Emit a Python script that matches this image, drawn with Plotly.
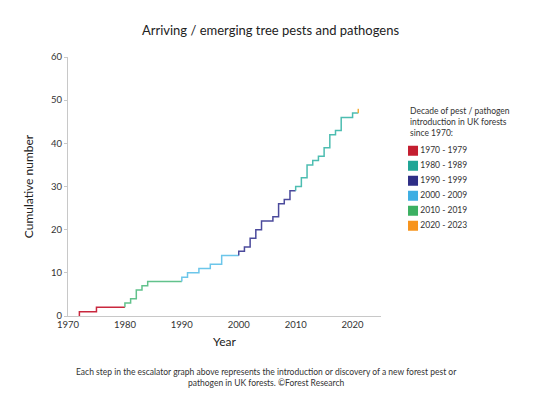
import plotly.graph_objects as go

# Year of each new arrival / emergence and the cumulative total after it
years = [1972, 1975, 1980, 1981, 1982, 1983, 1984, 1990, 1991, 1993, 1995,
         1997, 2000, 2001, 2002, 2003, 2004, 2006, 2007, 2008, 2009, 2010,
         2011, 2012, 2013, 2014, 2015, 2016, 2017, 2018, 2020, 2021]
counts = [1, 2, 3, 4, 6, 7, 8, 9, 10, 11, 12,
          14, 15, 16, 18, 20, 22, 23, 26, 27, 29, 30,
          32, 35, 36, 37, 39, 42, 43, 46, 47, 48]

# colour bands of the escalator line, as drawn in the original
segment_starts = [1970, 1980, 1990, 2000, 2010, 2021]
segment_colors = ['#c9283e', '#62c28c', '#6cc6ea', '#4b4a9c', '#4dbdb1', '#f5ad3a']

# legend key (colours as given in the original key)
legend_labels = ['1970 - 1979', '1980 - 1989', '1990 - 1999',
                 '2000 - 2009', '2010 - 2019', '2020 - 2023']
legend_colors = ['#c41e30', '#1fa596', '#2e2e86', '#3daee3', '#3cb062', '#f7941d']

FONT = 'Lato'
TEXT = '#333333'
AXIS = '#c8c8c8'

fig = go.Figure()

prev = 0
for i, start in enumerate(segment_starts):
    end = segment_starts[i + 1] if i + 1 < len(segment_starts) else None
    idx = [k for k, yr in enumerate(years) if yr >= start and (end is None or yr < end)]
    if not idx:
        continue
    xs = [years[idx[0]]] + [years[k] for k in idx]
    ys = [prev] + [counts[k] for k in idx]
    if end is not None:
        xs.append(end)
        ys.append(ys[-1])
    prev = ys[-1]
    fig.add_trace(go.Scatter(
        x=xs, y=ys, mode='lines', line_shape='hv',
        line=dict(color=segment_colors[i], width=1.5),
        showlegend=False, hoverinfo='skip'
    ))

# key drawn on its own small axes so the spacing matches the original
fig.add_trace(go.Scatter(
    x=[8] * len(legend_labels), y=legend_labels,
    mode='markers+text', text=legend_labels, textposition='middle right',
    textfont=dict(family=FONT, size=8.5, color=TEXT),
    marker=dict(symbol='square', size=10, color=legend_colors),
    xaxis='x2', yaxis='y2', showlegend=False, hoverinfo='skip'
))

fig.update_layout(
    width=525, height=392,
    margin=dict(l=60, r=10, t=49, b=84),
    paper_bgcolor='white', plot_bgcolor='white',
    font=dict(family=FONT, color=TEXT),
    title=dict(text='Arriving / emerging tree pests and pathogens',
               x=0.5, xanchor='center', y=0.944, yanchor='middle',
               font=dict(size=13, color='#222222')),
    xaxis=dict(domain=[0, 0.688], range=[1970, 2025], dtick=10, tick0=1970,
               showline=True, linecolor=AXIS, linewidth=1, showgrid=False,
               zeroline=False, ticks='', tickfont=dict(size=9.5, color=TEXT),
               title=dict(text='Year', font=dict(size=12, color='#222222'), standoff=8)),
    yaxis=dict(range=[0, 60], dtick=10, showline=True, linecolor=AXIS, linewidth=1,
               showgrid=False, zeroline=False, ticks='outside', ticklen=3,
               tickcolor=AXIS, tickfont=dict(size=9.5, color=TEXT),
               title=dict(text='Cumulative number', font=dict(size=12, color='#222222'),
                          standoff=14)),
    xaxis2=dict(domain=[0.7407, 1], range=[0, 118], visible=False,
                anchor='y2', fixedrange=True),
    yaxis2=dict(domain=[0.3197, 0.667], type='category', range=[5.5, -0.5],
                visible=False, anchor='x2', fixedrange=True),
    annotations=[
        dict(text='Decade of pest / pathogen<br>introduction in UK forests<br>since 1970:',
             xref='paper', yref='paper', x=0.747, y=0.818, xanchor='left', yanchor='top',
             align='left', showarrow=False, font=dict(family=FONT, size=8.5, color='#333333')),
        dict(text='Each step in the escalator graph above represents the introduction or '
                  'discovery of a new forest pest or<br>pathogen in UK forests. ©Forest Research',
             xref='paper', yref='paper', x=0.436, y=-0.236, xanchor='center', yanchor='middle',
             align='center', showarrow=False, font=dict(family=FONT, size=8.5, color='#333333')),
    ],
)

fig.write_html('out.html')
